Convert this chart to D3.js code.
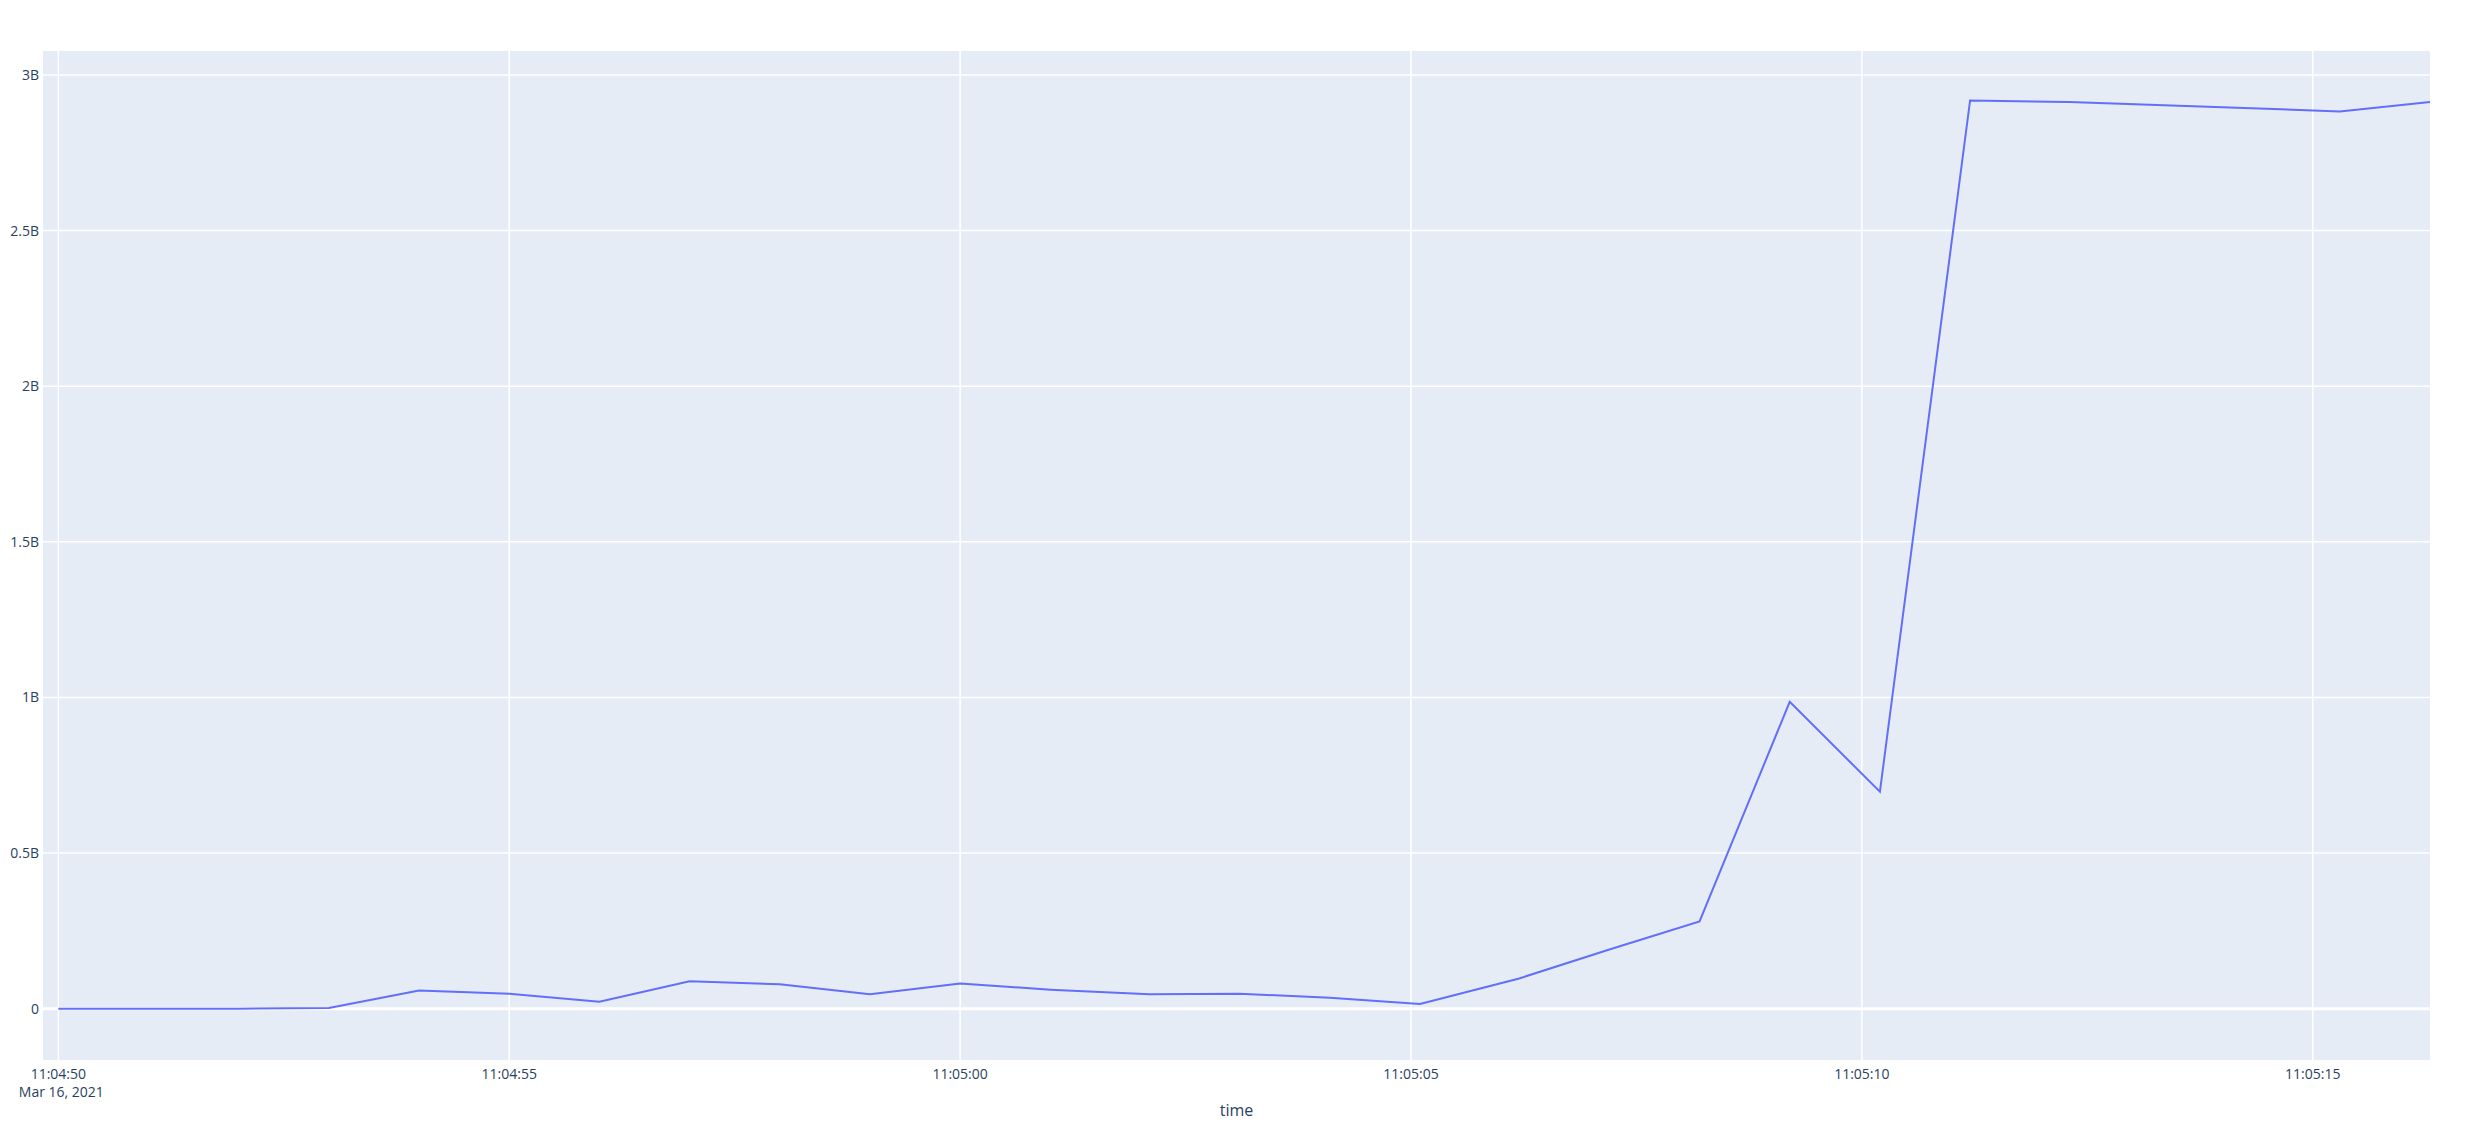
<!DOCTYPE html>
<html><head><meta charset="utf-8">
<script src="https://cdn.jsdelivr.net/npm/d3@7"></script>
<style>body{margin:0;background:#fff}</style></head>
<body><svg id="c" width="2485" height="1141"></svg>
<script>
const offsets = [0,1,2,3.0,4.0,5.0,6.0,7.0,8.0,9.0,10.0,11.0,12.1,13.1,14.1,15.1,16.2,17.2,18.2,19.2,20.2,21.2,22.3,25.3,26.3];
const values = [0,0,0,0.002e9,0.058e9,0.048e9,0.022e9,0.088e9,0.078e9,0.046e9,0.081e9,0.061e9,0.046e9,0.048e9,0.035e9,0.015e9,0.097e9,0.19e9,0.28e9,0.986e9,0.697e9,2.918e9,2.913e9,2.883e9,2.913e9];
const yTicks = [0,0.5e9,1e9,1.5e9,2e9,2.5e9,3e9];
const yTickLabels = ["0","0.5B","1B","1.5B","2B","2.5B","3B"];
const start = new Date(2021,2,16,11,4,50);
const data = offsets.map((o,i)=>({t:new Date(start.getTime()+o*1000), v:values[i]}));
const L=43,R=2430,T=51,B=1060;
const svg=d3.select("#c");
const x=d3.scaleTime().domain([new Date(start.getTime()-170), new Date(start.getTime()+26300)]).range([L,R]);
const y=d3.scaleLinear().domain([-0.165e9,3.077e9]).range([B,T]);
svg.append("rect").attr("x",L).attr("y",T).attr("width",R-L).attr("height",B-T).attr("fill","#e5ecf6");
const xt=d3.range(0,30,5).map(s=>new Date(start.getTime()+s*1000));
svg.append("g").selectAll("line").data(xt).join("line").attr("x1",d=>x(d)).attr("x2",d=>x(d)).attr("y1",T).attr("y2",B).attr("stroke","#fff").attr("stroke-width",1.5);
svg.append("g").selectAll("line").data(yTicks).join("line").attr("x1",L).attr("x2",R).attr("y1",d=>y(d)).attr("y2",d=>y(d)).attr("stroke","#fff").attr("stroke-width",d=>d===0?3:1.5);
const fmt=d3.timeFormat("%H:%M:%S");
svg.append("g").selectAll("text").data(xt).join("text").attr("x",d=>x(d)).attr("y",B+19).attr("text-anchor","middle").attr("font-family","Open Sans, sans-serif").attr("font-size",14).attr("fill","#2a3f5f").text(d=>fmt(d));
svg.append("text").attr("x",x(start)+3).attr("y",B+37).attr("text-anchor","middle").attr("font-family","Open Sans, sans-serif").attr("font-size",14).attr("fill","#2a3f5f").text("Mar 16, 2021");
svg.append("g").selectAll("text").data(yTicks).join("text").attr("x",L-4).attr("y",d=>y(d)+5).attr("text-anchor","end").attr("font-family","Open Sans, sans-serif").attr("font-size",14).attr("fill","#2a3f5f").text((d,i)=>yTickLabels[i]);
svg.append("text").attr("x",(L+R)/2).attr("y",1116).attr("text-anchor","middle").attr("font-family","Open Sans, sans-serif").attr("font-size",16).attr("fill","#2a3f5f").text("time");
const line=d3.line().x(d=>x(d.t)).y(d=>y(d.v));
svg.append("path").datum(data).attr("d",line).attr("fill","none").attr("stroke","#636efa").attr("stroke-width",2);
</script></body></html>
